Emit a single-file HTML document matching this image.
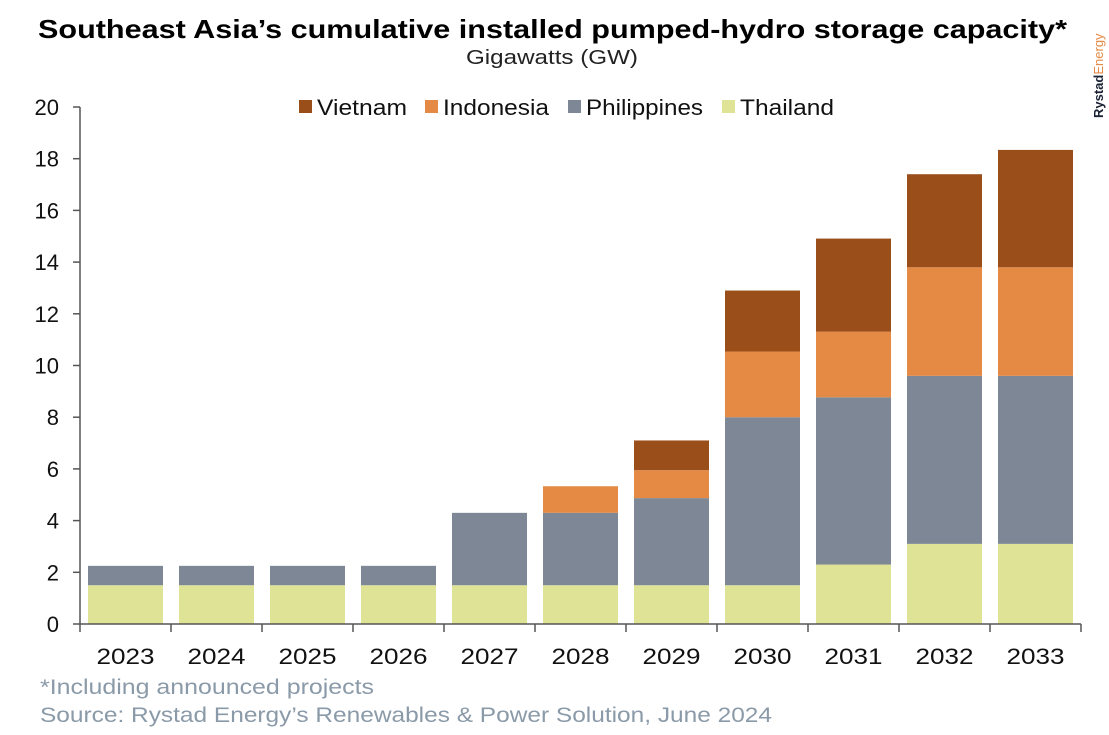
<!DOCTYPE html>
<html><head><meta charset="utf-8"><style>
body{margin:0;background:#fff;font-family:"Liberation Sans",sans-serif}
</style></head><body>
<svg width="1109" height="730" xmlns="http://www.w3.org/2000/svg" font-family="Liberation Sans, sans-serif" id="chart">
<text x="38" y="38" font-size="26" font-weight="bold" fill="#000" textLength="1029" lengthAdjust="spacingAndGlyphs">Southeast Asia’s cumulative installed pumped-hydro storage capacity*</text>
<text x="466" y="64" font-size="20" fill="#222" textLength="172" lengthAdjust="spacingAndGlyphs">Gigawatts (GW)</text>
<text transform="translate(1103,118) rotate(-90)" font-size="13"><tspan font-weight="bold" fill="#1a2233">Rystad</tspan><tspan fill="#e58a45">Energy</tspan></text>
<text x="40" y="694" font-size="21" fill="#8a9aa8" textLength="334" lengthAdjust="spacingAndGlyphs">*Including announced projects</text>
<text x="40" y="722" font-size="21" fill="#8a9aa8" textLength="732" lengthAdjust="spacingAndGlyphs">Source: Rystad Energy’s Renewables &amp; Power Solution, June 2024</text>
<g id="plot"></g>
</svg>
<script>
const categories=["2023","2024","2025","2026","2027","2028","2029","2030","2031","2032","2033"];
const thailand=[1.5,1.5,1.5,1.5,1.5,1.5,1.5,1.5,2.3,3.1,3.1];
const philippines=[0.75,0.75,0.75,0.75,2.8,2.8,3.37,6.5,6.47,6.5,6.5];
const indonesia=[0,0,0,0,0,1.03,1.08,2.54,2.54,4.2,4.2];
const vietnam=[0,0,0,0,0,0,1.15,2.36,3.6,3.6,4.54];
const yTicks=[0,2,4,6,8,10,12,14,16,18,20];
const seriesNames=["Thailand","Philippines","Indonesia","Vietnam"];
const colors=["#dfe395","#7d8795","#e58a45","#9a4e19"];
const data=[thailand,philippines,indonesia,vietnam];
const NS="http://www.w3.org/2000/svg";
const g=document.getElementById("plot");
const x0=80,x1=1081,y0=624,yTop=107,yMax=20;
const step=(x1-x0)/categories.length;
const y=v=>y0-(v/yMax)*(y0-yTop);
const xc=i=>x0+step*(i+0.5);
function el(t,a){const e=document.createElementNS(NS,t);for(const k in a)e.setAttribute(k,a[k]);g.appendChild(e);return e;}
yTicks.forEach(t=>{
 const tk=el("line",{x1:73,x2:80,y1:y(t),y2:y(t),stroke:"#555","stroke-width":1.5});
 
 
 const l=el("text",{x:59,y:y(t)+8,"text-anchor":"end","font-size":22,fill:"#111"});
 l.textContent=t;
 
 
});
const bw=75;
categories.forEach((c,i)=>{
 let acc=0;
 data.forEach((s,k)=>{
  const v=s[i]; if(v<=0)return;
  const r=el("rect",{x:xc(i)-bw/2,y:y(acc+v),width:bw,height:y(acc)-y(acc+v),fill:colors[k]});
  
  
  acc+=v;
 });
 const l=el("text",{x:xc(i)-29,y:664,"font-size":22,fill:"#111",textLength:58,lengthAdjust:"spacingAndGlyphs"});
 l.textContent=c;
 
 
});
for(let i=0;i<=categories.length;i++){
 const t=el("line",{x1:x0+step*i,x2:x0+step*i,y1:y0,y2:y0+8,stroke:"#555","stroke-width":1.5});
 
 
}
const ya=el("line",{x1:x0,x2:x0,y1:yTop,y2:y0,stroke:"#555","stroke-width":1.5});


const xa=el("line",{x1:x0,x2:x1,y1:y0,y2:y0,stroke:"#555","stroke-width":1.5});


const legend=[["Vietnam",3,299,90],["Indonesia",2,425,106],["Philippines",1,568,117],["Thailand",0,722,94]];
legend.forEach(([n,k,lx,w])=>{
 const s=el("rect",{x:lx,y:100,width:13,height:13,fill:colors[k]});
 
 
 const t=el("text",{x:lx+18,y:115,"font-size":22,fill:"#111",textLength:w,lengthAdjust:"spacingAndGlyphs"});
 t.textContent=n;
 
 
});
</script>
</body></html>
